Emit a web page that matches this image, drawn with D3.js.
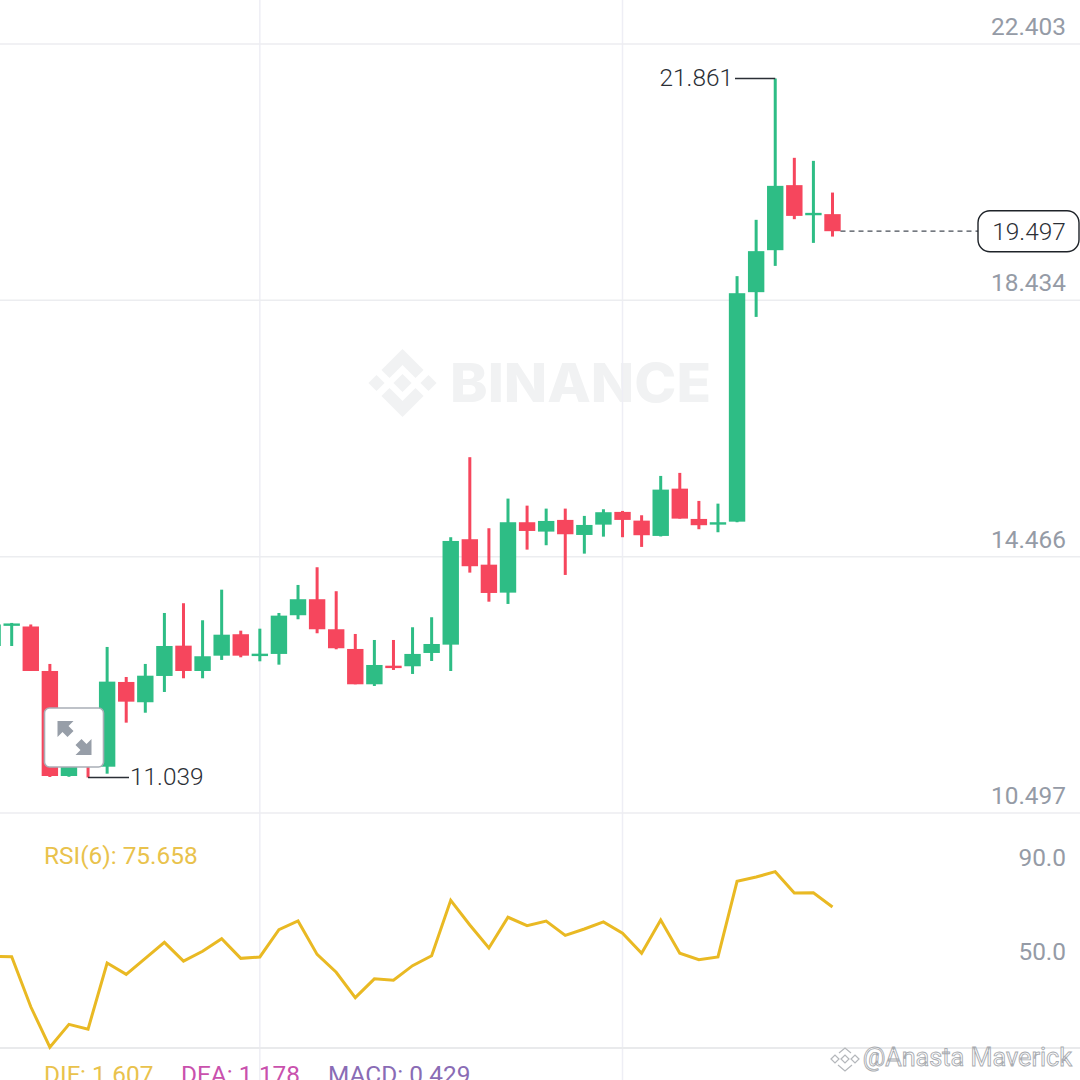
<!DOCTYPE html>
<html>
<head>
<meta charset="utf-8">
<script src="https://cdn.jsdelivr.net/npm/d3@7"></script>
<style>
  html, body { margin: 0; padding: 0; background: #fff; overflow: hidden; }
  svg { display: block; font-family: Roboto, sans-serif; }
</style>
</head>
<body>
<svg id="chart" width="1080" height="1080"></svg>
<script>
// values, index 0 is the candle cut by the left edge
const opens = [13.075,13.390,13.377,12.688,11.062,11.434,11.206,12.518,12.204,12.611,13.080,12.688,12.925,13.257,12.925,12.952,13.551,13.799,13.334,13.029,12.482,12.770,12.761,12.967,13.096,14.728,14.334,13.901,14.991,14.846,15.027,14.794,14.954,15.151,15.016,14.779,15.511,15.042,14.954,15.000,18.553,19.203,20.210,19.745,19.761];
const highs = [13.478,13.432,13.408,12.797,11.542,11.542,13.060,12.595,12.797,13.586,13.737,13.473,13.947,13.312,13.343,13.586,14.020,14.294,13.923,13.261,13.168,13.168,13.365,13.520,14.759,15.998,14.898,15.357,15.248,15.202,15.202,15.089,15.192,15.166,15.099,15.708,15.755,15.321,15.279,18.801,19.673,21.861,20.633,20.586,20.095];
const lows = [13.013,13.075,12.688,11.047,11.050,11.039,11.098,11.888,12.042,12.363,12.575,12.575,12.859,12.900,12.838,12.786,13.489,13.272,13.024,12.482,12.456,12.704,12.642,12.843,12.688,14.211,13.761,13.726,14.567,14.635,14.175,14.505,14.768,14.759,14.609,14.771,15.047,14.883,14.836,14.991,18.170,18.960,19.683,19.316,19.414];
const closes = [13.408,13.424,12.688,11.062,11.434,11.279,12.523,12.213,12.615,13.075,12.688,12.916,13.250,12.925,12.956,13.545,13.799,13.334,13.040,12.482,12.781,12.735,12.952,13.106,14.701,14.310,13.896,14.991,14.856,15.011,14.805,14.949,15.146,15.027,14.790,15.496,15.047,14.945,14.991,18.537,19.188,20.199,19.734,19.781,19.497];
const rsiValues = [54.7,54.5,33.2,16.0,25.7,23.7,51.8,47.0,53.8,60.6,52.6,56.8,62.2,53.8,54.4,66.0,69.7,55.5,47.9,37.1,45.1,44.5,50.7,54.9,78.5,68.0,58.2,71.3,67.7,69.7,63.6,66.3,69.3,64.5,56.0,70.1,56.0,53.2,54.4,86.6,88.4,90.7,81.6,81.7,75.658];

const priceTicks = [22.403, 18.434, 14.466, 10.497];
const rsiTicks = [90, 50];
const timeGridIdx = [14, 33];

const lastPrice = 19.497;
const maxPrice = 21.861, maxIdx = 41;
const minPrice = 11.039, minIdx = 5;

const upColor = '#2EBD85', downColor = '#F6465D';
const gridColor = '#ecedf0', labelColor = '#959ba6', darkText = '#2b2f36';
const fontSize = '24.4px';

const width = 1080, height = 1080;
const svg = d3.select('#chart');

const candles = opens.map((d, i) => ({ i: i, o: d, h: highs[i], l: lows[i], c: closes[i] }));

const x = d3.scaleLinear().domain([0, 44]).range([-7.4, 832.5]);
const y = d3.scaleLinear().domain([10.497, 22.403]).range([812.5, 43.5]);
const yRsi = d3.scaleLinear().domain([50, 90]).range([967.3, 873.3]);

// BINANCE watermark goes under everything else
const mark = svg.append('g').attr('fill', '#f1f2f3');
mark.append('path').attr('transform', 'translate(402.5,383)')
  .attr('d', 'M0,-34L21,-13L13,-5L0,-18L-13,-5L-21,-13Z M0,34L21,13L13,5L0,18L-13,5L-21,13Z M-34,0L-26,-8L-18,0L-26,8Z M34,0L26,-8L18,0L26,8Z M0,-9L9,0L0,9L-9,0Z');
mark.append('text').attr('x', 450).attr('y', 402)
  .attr('textLength', 261).attr('lengthAdjust', 'spacingAndGlyphs')
  .style('font-family', 'Inter, sans-serif').style('font-weight', 800).style('font-size', '54px')
  .text('BINANCE');

// vertical grid lines
svg.append('g').selectAll('line').data(timeGridIdx).join('line')
  .attr('x1', d => x(d)).attr('x2', d => x(d))
  .attr('y1', 0).attr('y2', height)
  .attr('stroke', '#eeeef5').attr('stroke-width', 1.5);

// price axis: ticks stretched over the whole width act as the grid
const priceAxis = d3.axisLeft(y).tickValues(priceTicks).tickSize(width).tickFormat(d3.format('.3f'));
const priceG = svg.append('g').attr('transform', `translate(${width},0)`).call(priceAxis);
priceG.select('.domain').remove();
priceG.selectAll('line').attr('stroke', gridColor).attr('stroke-width', 1.5);
priceG.selectAll('text').attr('x', -14).attr('y', -9).attr('dy', 0)
  .attr('text-anchor', 'end').attr('fill', labelColor)
  .style('font-family', 'Roboto, sans-serif').style('font-size', fontSize);

// rsi axis, no grid in this pane
const rsiAxis = d3.axisLeft(yRsi).tickValues(rsiTicks).tickSize(0).tickFormat(d3.format('.1f'));
const rsiG = svg.append('g').attr('transform', `translate(${width},0)`).call(rsiAxis);
rsiG.select('.domain').remove();
rsiG.selectAll('text').attr('x', -14).attr('y', -8).attr('dy', 0)
  .attr('text-anchor', 'end').attr('fill', labelColor)
  .style('font-family', 'Roboto, sans-serif').style('font-size', fontSize);

// line closing the rsi pane
svg.append('line').attr('x1', 0).attr('x2', width).attr('y1', 1048).attr('y2', 1048)
  .attr('stroke', '#e9eaec').attr('stroke-width', 2);

// candles
const candleG = svg.append('g').selectAll('g').data(candles).join('g')
  .attr('fill', d => d.c >= d.o ? upColor : downColor);
candleG.append('rect')
  .attr('x', d => x(d.i) - 1.5).attr('width', 3)
  .attr('y', d => y(d.h)).attr('height', d => y(d.l) - y(d.h));
candleG.append('rect')
  .attr('x', d => x(d.i) - 8.2).attr('width', 16.4)
  .attr('y', d => y(Math.max(d.o, d.c)))
  .attr('height', d => Math.max(2.4, Math.abs(y(d.o) - y(d.c))));

// high / low markers
svg.append('line').attr('x1', 735).attr('x2', x(maxIdx))
  .attr('y1', y(maxPrice)).attr('y2', y(maxPrice))
  .attr('stroke', darkText).attr('stroke-width', 1.5);
svg.append('text').attr('x', 733).attr('y', y(maxPrice) + 7)
  .attr('text-anchor', 'end').attr('fill', darkText).style('font-weight', 300)
  .style('font-size', fontSize).text(maxPrice.toFixed(3));
svg.append('line').attr('x1', x(minIdx)).attr('x2', 129)
  .attr('y1', y(minPrice)).attr('y2', y(minPrice))
  .attr('stroke', darkText).attr('stroke-width', 1.5);
svg.append('text').attr('x', 130).attr('y', y(minPrice) + 8)
  .attr('fill', darkText).style('font-weight', 300)
  .style('font-size', fontSize).text(minPrice.toFixed(3));

// current price
svg.append('line').attr('x1', x(44) + 8).attr('x2', 978)
  .attr('y1', y(lastPrice)).attr('y2', y(lastPrice))
  .attr('stroke', '#474d57').attr('stroke-width', 1.3).attr('stroke-dasharray', '5 4');
svg.append('rect').attr('x', 978).attr('y', y(lastPrice) - 20.5).attr('width', 101).attr('height', 41)
  .attr('rx', 12).attr('fill', '#fff').attr('stroke', '#1e2329').attr('stroke-width', 1.4);
svg.append('text').attr('x', 1029).attr('y', y(lastPrice) + 9)
  .attr('text-anchor', 'middle').attr('fill', darkText).style('font-weight', 300)
  .style('font-size', fontSize).text(lastPrice.toFixed(3));

// expand button on top of the candles
svg.append('rect').attr('x', 44.5).attr('y', 708).attr('width', 59).attr('height', 59).attr('rx', 5)
  .attr('fill', '#fff').attr('stroke', '#a9aeb6').attr('stroke-width', 1.6);
svg.append('path').attr('fill', '#979ea8').attr('transform', 'translate(74.5,738)')
  .attr('d', 'M-17,-17L-1,-17L-6,-12L-1,-7L-7,-1L-12,-6L-17,-1Z M17,17L1,17L6,12L1,7L7,1L12,6L17,1Z');

// rsi line
const rsiLine = d3.line().x((d, i) => x(i)).y(d => yRsi(d));
svg.append('path').datum(rsiValues).attr('d', rsiLine)
  .attr('fill', 'none').attr('stroke', '#E9B923').attr('stroke-width', 3)
  .attr('stroke-linejoin', 'miter');

// indicator legends
svg.append('text').attr('x', 44).attr('y', 864).attr('fill', '#e9c24c')
  .style('font-size', fontSize).text('RSI(6): 75.658');
svg.append('text').attr('x', 44).attr('y', 1083).attr('fill', '#e9c24c')
  .style('font-size', fontSize).text('DIF: 1.607');
svg.append('text').attr('x', 181).attr('y', 1083).attr('fill', '#c951ad')
  .style('font-size', fontSize).text('DEA: 1.178');
svg.append('text').attr('x', 328).attr('y', 1083).attr('fill', '#8a6cb5')
  .style('font-size', fontSize).text('MACD: 0.429');

// post watermark, bottom right
svg.append('path').attr('transform', 'translate(845,1059)')
  .attr('fill', 'none').attr('stroke', '#b4b7bb').attr('stroke-width', 1.2)
  .attr('d', 'M-6,-6L0,-11L6,-6 M-14,0L-10,-4L-6,0L-10,4Z M14,0L10,-4L6,0L10,4Z M-4,0L0,-4L4,0L0,4Z M-7,6L0,12L7,6');
svg.append('text').attr('x', 1072).attr('y', 1066).attr('text-anchor', 'end')
  .attr('fill', '#fff').attr('stroke', '#a8abb0').attr('stroke-width', 0.9)
  .style('font-size', '25.2px').text('@Anasta Maverick');
</script>
</body>
</html>
